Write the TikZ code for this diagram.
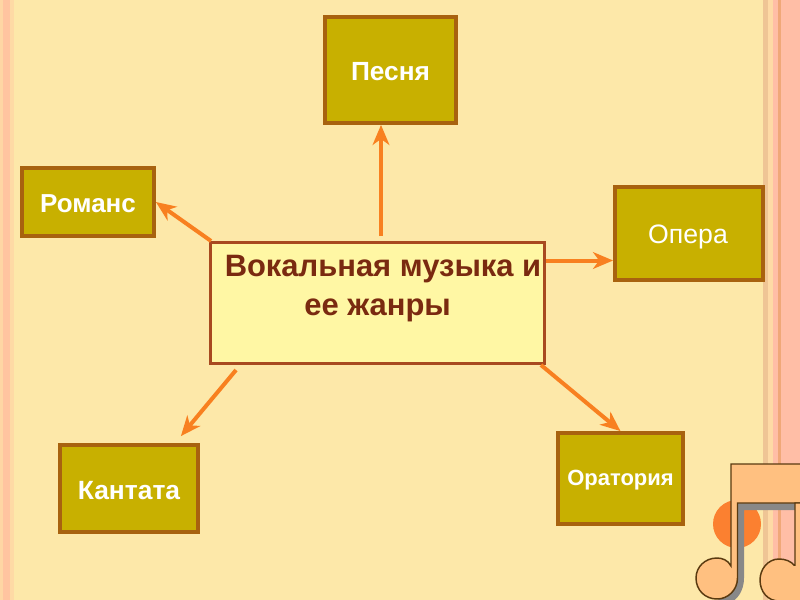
\documentclass[tikz,border=0pt]{standalone}
\usepackage{fontspec}
\setmainfont{Liberation Sans}
\usetikzlibrary{arrows.meta,calc}
\definecolor{bgc}{HTML}{FDE8A9}
\definecolor{pinkc}{HTML}{FFC4A0}
\definecolor{salmc}{HTML}{FFBEA6}
\definecolor{tanc}{HTML}{EFC595}
\definecolor{darkstr}{HTML}{F0A878}
\definecolor{boxc}{HTML}{C8B000}
\definecolor{edgec}{HTML}{A8620F}
\definecolor{mainedge}{HTML}{A84A20}
\definecolor{mainfill}{HTML}{FFF7A4}
\definecolor{txtc}{HTML}{7A2A10}
\definecolor{arr}{HTML}{F88020}
\definecolor{peach}{HTML}{FFC080}
\definecolor{noteedge}{HTML}{5A3A10}
\definecolor{circ}{HTML}{FB8030}
\definecolor{shad}{HTML}{888888}
\tikzset{
  x=0.75pt,y=-0.75pt,
  genre/.style={draw=edgec,line width=3pt,fill=boxc,inner sep=0pt},
  lab/.style={text=white,inner sep=0pt},
  flow/.style={draw=arr,line width=3pt,-{Stealth[length=15pt,width=12.5pt,inset=4.5pt]}}
}
\newcommand{\genrebox}[5]{\node[genre,minimum width=#3*0.75pt-2.4pt,minimum height=#4*0.75pt-2.4pt] (#5) at (#1,#2) {};}
\begin{document}
\begin{tikzpicture}
\useasboundingbox (0,0) rectangle (800,600);
\begin{scope}
\clip (0,0) rectangle (800,600);
\fill[bgc] (0,0) rectangle (800,600);
\fill[pinkc!50!bgc] (0,0) rectangle (3,600);
\fill[pinkc] (3,0) rectangle (10,600);
\fill[pinkc!40!bgc] (10,0) rectangle (14,600);
\fill[tanc] (763,0) rectangle (768,600);
\fill[pinkc!40!bgc] (768,0) rectangle (773,600);
\fill[salmc] (773,0) rectangle (778,600);
\fill[darkstr] (778,0) rectangle (781,600);
\fill[salmc] (781,0) rectangle (800,600);

% note
\fill[circ] (737,524) circle (24);
\fill[shad] (738,503) -- (795,503) -- (795,510) -- (744,510) -- (744,578) .. controls (744,590) and (738,600) .. (728,604) -- (715,604) -- (738,575) -- cycle;
\path[fill=peach,draw=noteedge,line width=1.1pt]
  (731,464) -- (805,464) -- (805,503) -- (737.5,503) -- (737.5,578)
  .. controls (737.5,590) and (728,599) .. (717,599)
  .. controls (705,599) and (696,590) .. (696,578)
  .. controls (696,567) and (705,558) .. (717,558)
  .. controls (722,558) and (728,560) .. (731,566) -- cycle;
\path[fill=peach,draw=noteedge,line width=1.1pt]
  (795,503) -- (805,503) -- (805,610) -- (779,601)
  .. controls (768,601) and (760,592) .. (760,580)
  .. controls (760,569) and (768,559) .. (779,559)
  .. controls (785,559) and (791,561) .. (795,566) -- cycle;
\fill[peach] (796,505) rectangle (805,600);
\fill[peach] (780,566) rectangle (805,600);
\end{scope}

\genrebox{390.5}{70}{134}{109}{song}
\genrebox{88}{202}{135}{71}{romance}
\genrebox{689}{233.5}{151}{96}{opera}
\genrebox{129}{488.5}{141}{90}{cantata}
\genrebox{620.5}{478.5}{128}{94}{oratorio}
\node[draw=mainedge,line width=2.2pt,fill=mainfill,minimum width=250.5pt,minimum height=90.8pt,inner sep=0pt] (main) at (377.5,303) {};

\node[lab,font=\bfseries\fontsize{19.7}{22}\selectfont] (t1) at (390.5,72) {Песня};
\node[lab,font=\bfseries\fontsize{19.5}{22}\selectfont] (t2) at (88,204) {Романс};
\node[lab,font=\fontsize{20}{22}\selectfont] (t3) at (688,237) {Опера};
\node[lab,font=\bfseries\fontsize{19.8}{22}\selectfont] (t4) at (129,491) {Кантата};
\node[lab,font=\bfseries\fontsize{16.5}{19}\selectfont] (t5) at (620.5,480) {Оратория};
\node[font=\bfseries\fontsize{23.2}{29.5}\selectfont,text=txtc,align=center,inner sep=0pt] (mt) at (383,288.5) {Вокальная музыка и\\[-0.5pt]\hspace*{-8pt}ее жанры};

\coordinate (songtail) at ($(main.north)+(3.5,-5)$);
\coordinate (songtip) at (songtail |- song.south);
\coordinate (operatail) at ($(main.north east)+(0,19.5)$);
\coordinate (operatip) at (operatail -| opera.west);
\coordinate (cantail) at ($(main.south west)+(27,5)$);
\coordinate (cantip) at ($(cantata.north east)+(-19,-7)$);

\draw[flow] (songtail) -- (songtip);
\draw[flow] ($(main.north west)+(2,0)$) -- (romance.east);
\draw[flow] (operatail) -- (operatip);
\draw[flow] (cantail) -- (cantip);
\draw[flow] ($(main.south east)+(-5,0)$) -- (oratorio.north);
\end{tikzpicture}
\end{document}
